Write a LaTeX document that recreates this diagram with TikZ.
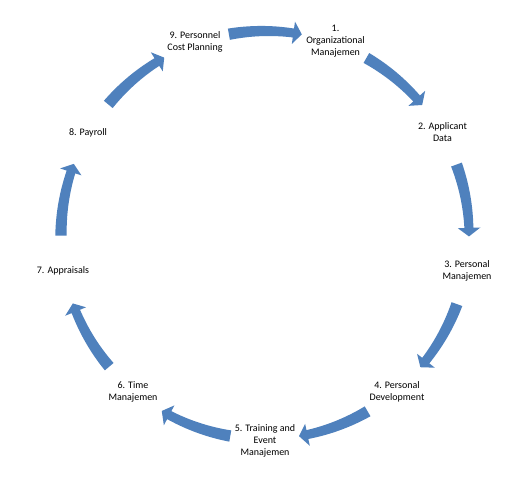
\documentclass[tikz,border=0pt]{standalone}
\usepackage{fontspec}
\setmainfont{Carlito}
\definecolor{cycblue}{RGB}{79,129,189}
\tikzset{
  lbl/.style={align=center, inner sep=0pt, font=\fontsize{7.5}{9}\selectfont, text=black},
  cyc/.style={fill=cycblue, draw=none}
}
\begin{document}
\begin{tikzpicture}[x=0.75pt,y=-0.75pt]
\useasboundingbox (0,0) rectangle (513,501);
\fill[white] (0,0) rectangle (513,501);
% labels
\node[lbl] (n1) at (335.5,41.5) {1.\\Organizational\\Manajemen};
\node[lbl] (n2) at (442.5,132) {2. Applicant\\Data};
\node[lbl] (n3) at (467,271) {3. Personal\\Manajemen};
\node[lbl] (n4) at (397,392) {4. Personal\\Development};
\node[lbl] (n5) at (265,440.5) {5. Training and\\Event\\Manajemen};
\node[lbl] (n6) at (133,392) {6. Time\\Manajemen};
\node[lbl] (n7) at (63,270.5) {7. Appraisals};
\node[lbl] (n8) at (88,132.5) {8. Payroll};
\node[lbl] (n9) at (195,42) {9. Personnel\\Cost Planning};
% curved block arrows
\foreach \m in {90,50,10,-30,-70,-110,-150,170,130} {
  \pgfmathsetmacro\ta{\m+10.2}
  \pgfmathsetmacro\tb{\m-8.0}
  \pgfmathsetmacro\tc{\m-10.4}
  \pgfmathsetmacro\dt{\ta-\tb}
  \fill[cyc]
    plot[domain=0:1, samples=20] ({265+(209.7-1.2*\x)*cos(\ta-\x*\dt)}, {235-(209.7-1.2*\x)*sin(\ta-\x*\dt)})
    -- ({265+215.5*cos(\tb)}, {235-215.5*sin(\tb)})
    -- ({265+204*cos(\tc)}, {235-204*sin(\tc)})
    -- ({265+193*cos(\tb)}, {235-193*sin(\tb)})
    -- plot[domain=-1:0, samples=20] ({265+(198.3-1.2*\x)*cos(\ta+\x*\dt)}, {235-(198.3-1.2*\x)*sin(\ta+\x*\dt)})
    -- cycle;
}
\end{tikzpicture}
\end{document}
